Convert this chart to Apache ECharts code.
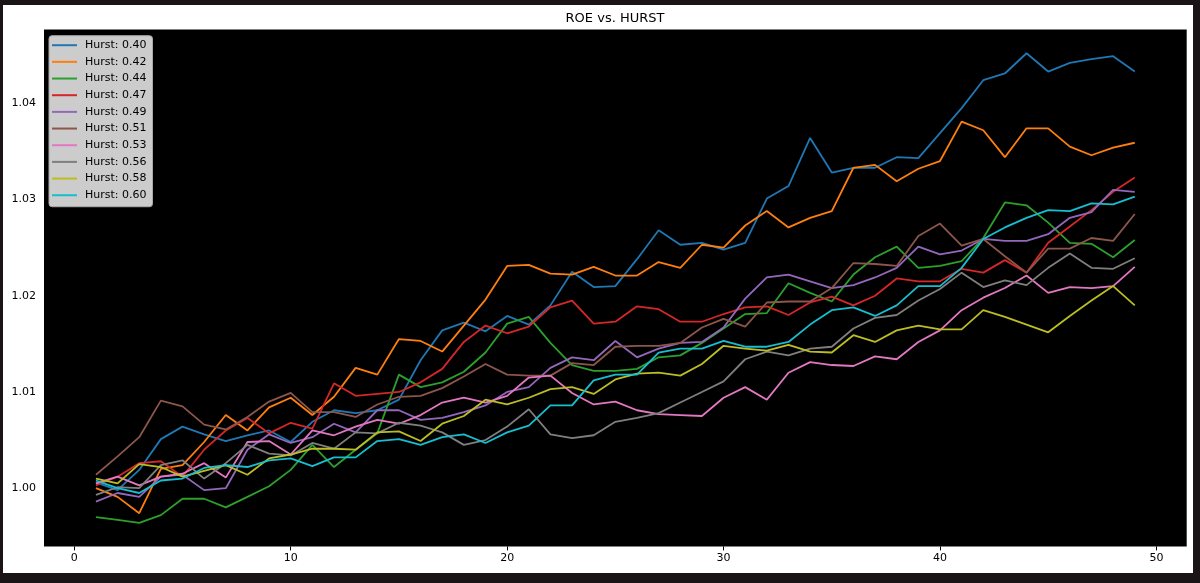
<!DOCTYPE html>
<html>
<head>
<meta charset="utf-8">
<script src="https://cdn.jsdelivr.net/npm/echarts@6/dist/echarts.min.js"></script>
<style>
html,body{margin:0;padding:0;background:#1a1416;width:1200px;height:583px;overflow:hidden;}
#chart{position:absolute;left:3px;top:5px;width:1190px;height:568px;background:#ffffff;}
</style>
</head>
<body>
<div id="chart"></div>
<script>
const steps = [1,2,3,4,5,6,7,8,9,10,11,12,13,14,15,16,17,18,19,20,21,22,23,24,25,26,27,28,29,30,31,32,33,34,35,36,37,38,39,40,41,42,43,44,45,46,47,48,49];
const xTicks = [0,10,20,30,40,50];
const yTicks = [1.00,1.01,1.02,1.03,1.04];
const seriesNames = ['Hurst: 0.40','Hurst: 0.42','Hurst: 0.44','Hurst: 0.47','Hurst: 0.49','Hurst: 0.51','Hurst: 0.53','Hurst: 0.56','Hurst: 0.58','Hurst: 0.60'];
const colors = ['#1f77b4','#ff7f0e','#2ca02c','#d62728','#9467bd','#8c564b','#e377c2','#7f7f7f','#bcbd22','#17becf'];

const h040 = [1.0006,0.9998,1.0019,1.0051,1.0064,1.0056,1.0049,1.0055,1.0060,1.0048,1.0069,1.0081,1.0078,1.0081,1.0092,1.0133,1.0164,1.0172,1.0163,1.0179,1.0170,1.0190,1.0225,1.0209,1.0210,1.0238,1.0268,1.0253,1.0255,1.0248,1.0255,1.0301,1.0314,1.0364,1.0328,1.0333,1.0333,1.0344,1.0343,1.0369,1.0395,1.0424,1.0431,1.0452,1.0433,1.0442,1.0446,1.0449,1.0433];
const h042 = [1.0000,0.9991,0.9974,1.0020,1.0024,1.0048,1.0076,1.0060,1.0084,1.0094,1.0076,1.0095,1.0125,1.0118,1.0155,1.0153,1.0142,1.0169,1.0196,1.0231,1.0232,1.0223,1.0222,1.0230,1.0221,1.0221,1.0235,1.0229,1.0253,1.0250,1.0273,1.0288,1.0271,1.0281,1.0288,1.0333,1.0336,1.0319,1.0332,1.0340,1.0381,1.0372,1.0344,1.0374,1.0374,1.0355,1.0346,1.0354,1.0359];
const h044 = [0.9970,0.9967,0.9964,0.9972,0.9989,0.9989,0.9980,0.9991,1.0002,1.0019,1.0045,1.0022,1.0040,1.0057,1.0118,1.0105,1.0110,1.0121,1.0141,1.0171,1.0178,1.0151,1.0128,1.0122,1.0122,1.0124,1.0136,1.0138,1.0151,1.0166,1.0181,1.0182,1.0213,1.0203,1.0194,1.0222,1.0240,1.0251,1.0229,1.0231,1.0236,1.0260,1.0297,1.0294,1.0276,1.0255,1.0254,1.0240,1.0258];
const h047 = [1.0003,1.0012,1.0026,1.0028,1.0012,1.0040,1.0060,1.0073,1.0057,1.0068,1.0062,1.0109,1.0096,1.0098,1.0100,1.0110,1.0124,1.0152,1.0169,1.0161,1.0168,1.0188,1.0195,1.0171,1.0173,1.0189,1.0186,1.0173,1.0173,1.0181,1.0188,1.0189,1.0180,1.0193,1.0199,1.0190,1.0200,1.0218,1.0215,1.0215,1.0228,1.0224,1.0237,1.0224,1.0255,1.0272,1.0289,1.0308,1.0323];
const h049 = [0.9986,0.9995,0.9991,1.0012,1.0014,0.9998,1.0000,1.0040,1.0056,1.0047,1.0053,1.0067,1.0058,1.0081,1.0081,1.0071,1.0073,1.0079,1.0086,1.0100,1.0105,1.0125,1.0136,1.0133,1.0153,1.0136,1.0145,1.0151,1.0152,1.0167,1.0197,1.0219,1.0222,1.0215,1.0208,1.0211,1.0219,1.0229,1.0251,1.0243,1.0247,1.0259,1.0257,1.0257,1.0264,1.0281,1.0287,1.0310,1.0308];
const h051 = [1.0014,1.0033,1.0053,1.0091,1.0085,1.0066,1.0061,1.0074,1.0090,1.0099,1.0079,1.0079,1.0074,1.0087,1.0095,1.0096,1.0104,1.0116,1.0129,1.0118,1.0117,1.0117,1.0130,1.0128,1.0147,1.0148,1.0148,1.0151,1.0167,1.0176,1.0168,1.0193,1.0194,1.0194,1.0208,1.0234,1.0233,1.0231,1.0262,1.0275,1.0252,1.0259,1.0241,1.0224,1.0249,1.0249,1.0260,1.0257,1.0285];
const h053 = [1.0005,1.0012,1.0003,1.0012,1.0015,1.0026,1.0011,1.0048,1.0049,1.0035,1.0060,1.0055,1.0064,1.0071,1.0067,1.0076,1.0089,1.0094,1.0089,1.0096,1.0115,1.0117,1.0099,1.0087,1.0090,1.0081,1.0077,1.0076,1.0075,1.0094,1.0105,1.0092,1.0120,1.0131,1.0128,1.0127,1.0137,1.0134,1.0152,1.0164,1.0185,1.0198,1.0208,1.0221,1.0203,1.0209,1.0208,1.0210,1.0230];
const h056 = [0.9993,1.0001,1.0000,1.0024,1.0029,1.0010,1.0026,1.0045,1.0036,1.0034,1.0047,1.0041,1.0058,1.0057,1.0068,1.0065,1.0058,1.0045,1.0050,1.0064,1.0082,1.0056,1.0052,1.0055,1.0069,1.0073,1.0078,1.0089,1.0100,1.0111,1.0134,1.0142,1.0138,1.0145,1.0147,1.0166,1.0177,1.0180,1.0195,1.0207,1.0224,1.0209,1.0216,1.0211,1.0229,1.0244,1.0229,1.0228,1.0239];
const h058 = [1.0010,1.0005,1.0025,1.0022,1.0012,1.0018,1.0024,1.0014,1.0031,1.0035,1.0041,1.0041,1.0040,1.0058,1.0059,1.0049,1.0067,1.0075,1.0092,1.0087,1.0094,1.0103,1.0105,1.0098,1.0113,1.0119,1.0120,1.0117,1.0129,1.0148,1.0145,1.0143,1.0149,1.0142,1.0141,1.0159,1.0152,1.0164,1.0169,1.0165,1.0165,1.0185,1.0178,1.0170,1.0162,1.0179,1.0195,1.0210,1.0190];
const h060 = [1.0008,1.0000,0.9995,1.0008,1.0010,1.0021,1.0024,1.0022,1.0029,1.0031,1.0023,1.0032,1.0032,1.0049,1.0051,1.0045,1.0053,1.0056,1.0047,1.0058,1.0065,1.0086,1.0086,1.0112,1.0118,1.0118,1.0141,1.0145,1.0145,1.0153,1.0147,1.0147,1.0152,1.0170,1.0185,1.0188,1.0179,1.0190,1.0210,1.0210,1.0229,1.0259,1.0271,1.0281,1.0289,1.0288,1.0296,1.0295,1.0303];

const allValues = [h040,h042,h044,h047,h049,h051,h053,h056,h058,h060];

const chart = echarts.init(document.getElementById('chart'), null, {renderer:'canvas'});
const FONT = '"DejaVu Sans", sans-serif';

const series = allValues.map((vals, i) => ({
  name: seriesNames[i],
  type: 'line',
  data: steps.map((s, j) => [s, vals[j]]),
  showSymbol: false,
  symbol: 'none',
  lineStyle: {width: 1.8, color: colors[i]},
  itemStyle: {color: colors[i]},
  emphasis: {disabled: true},
  z: 2 + i
}));

chart.setOption({
  animation: false,
  backgroundColor: '#ffffff',
  color: colors,
  graphic: [{
    type: 'text',
    x: 612, y: 14,
    style: {text: 'ROE vs. HURST', align: 'center', verticalAlign: 'middle', font: 'normal 13px "DejaVu Sans", sans-serif', fill: '#000000'}
  }],
  legend: {
    orient: 'vertical',
    left: 46, top: 30.7,
    icon: 'rect',
    itemWidth: 25, itemHeight: 2,
    itemGap: 3.67,
    selectedMode: false,
    padding: [3, 6, 5, 3],
    backgroundColor: '#cccccc',
    borderColor: '#a8a8a8',
    borderWidth: 1,
    borderRadius: 3,
    textStyle: {fontFamily: FONT, fontSize: 11, lineHeight: 13, color: '#000000', padding: [0, 0, 0, 3]},
    data: seriesNames
  },
  grid: {left: 41, top: 24.5, right: 6.3, bottom: 26.6, show: true, backgroundColor: '#000000', borderWidth: 0, containLabel: false},
  xAxis: {
    type: 'value',
    min: -1.4, max: 51.4,
    axisLine: {show: false},
    splitLine: {show: false},
    axisTick: {show: true, inside: false, length: 4, lineStyle: {color: '#000000', width: 1}, customValues: xTicks},
    axisLabel: {show: true, margin: 6, color: '#000000', fontFamily: FONT, fontSize: 11, customValues: xTicks, formatter: v => String(v)}
  },
  yAxis: {
    type: 'value',
    min: 0.99395, max: 1.04767,
    axisLine: {show: false},
    splitLine: {show: false},
    axisTick: {show: true, inside: false, length: 4, lineStyle: {color: '#000000', width: 1}, customValues: yTicks},
    axisLabel: {show: true, margin: 8, color: '#000000', fontFamily: FONT, fontSize: 11, customValues: yTicks, formatter: v => v.toFixed(2)}
  },
  series: series
});
</script>
</body>
</html>
